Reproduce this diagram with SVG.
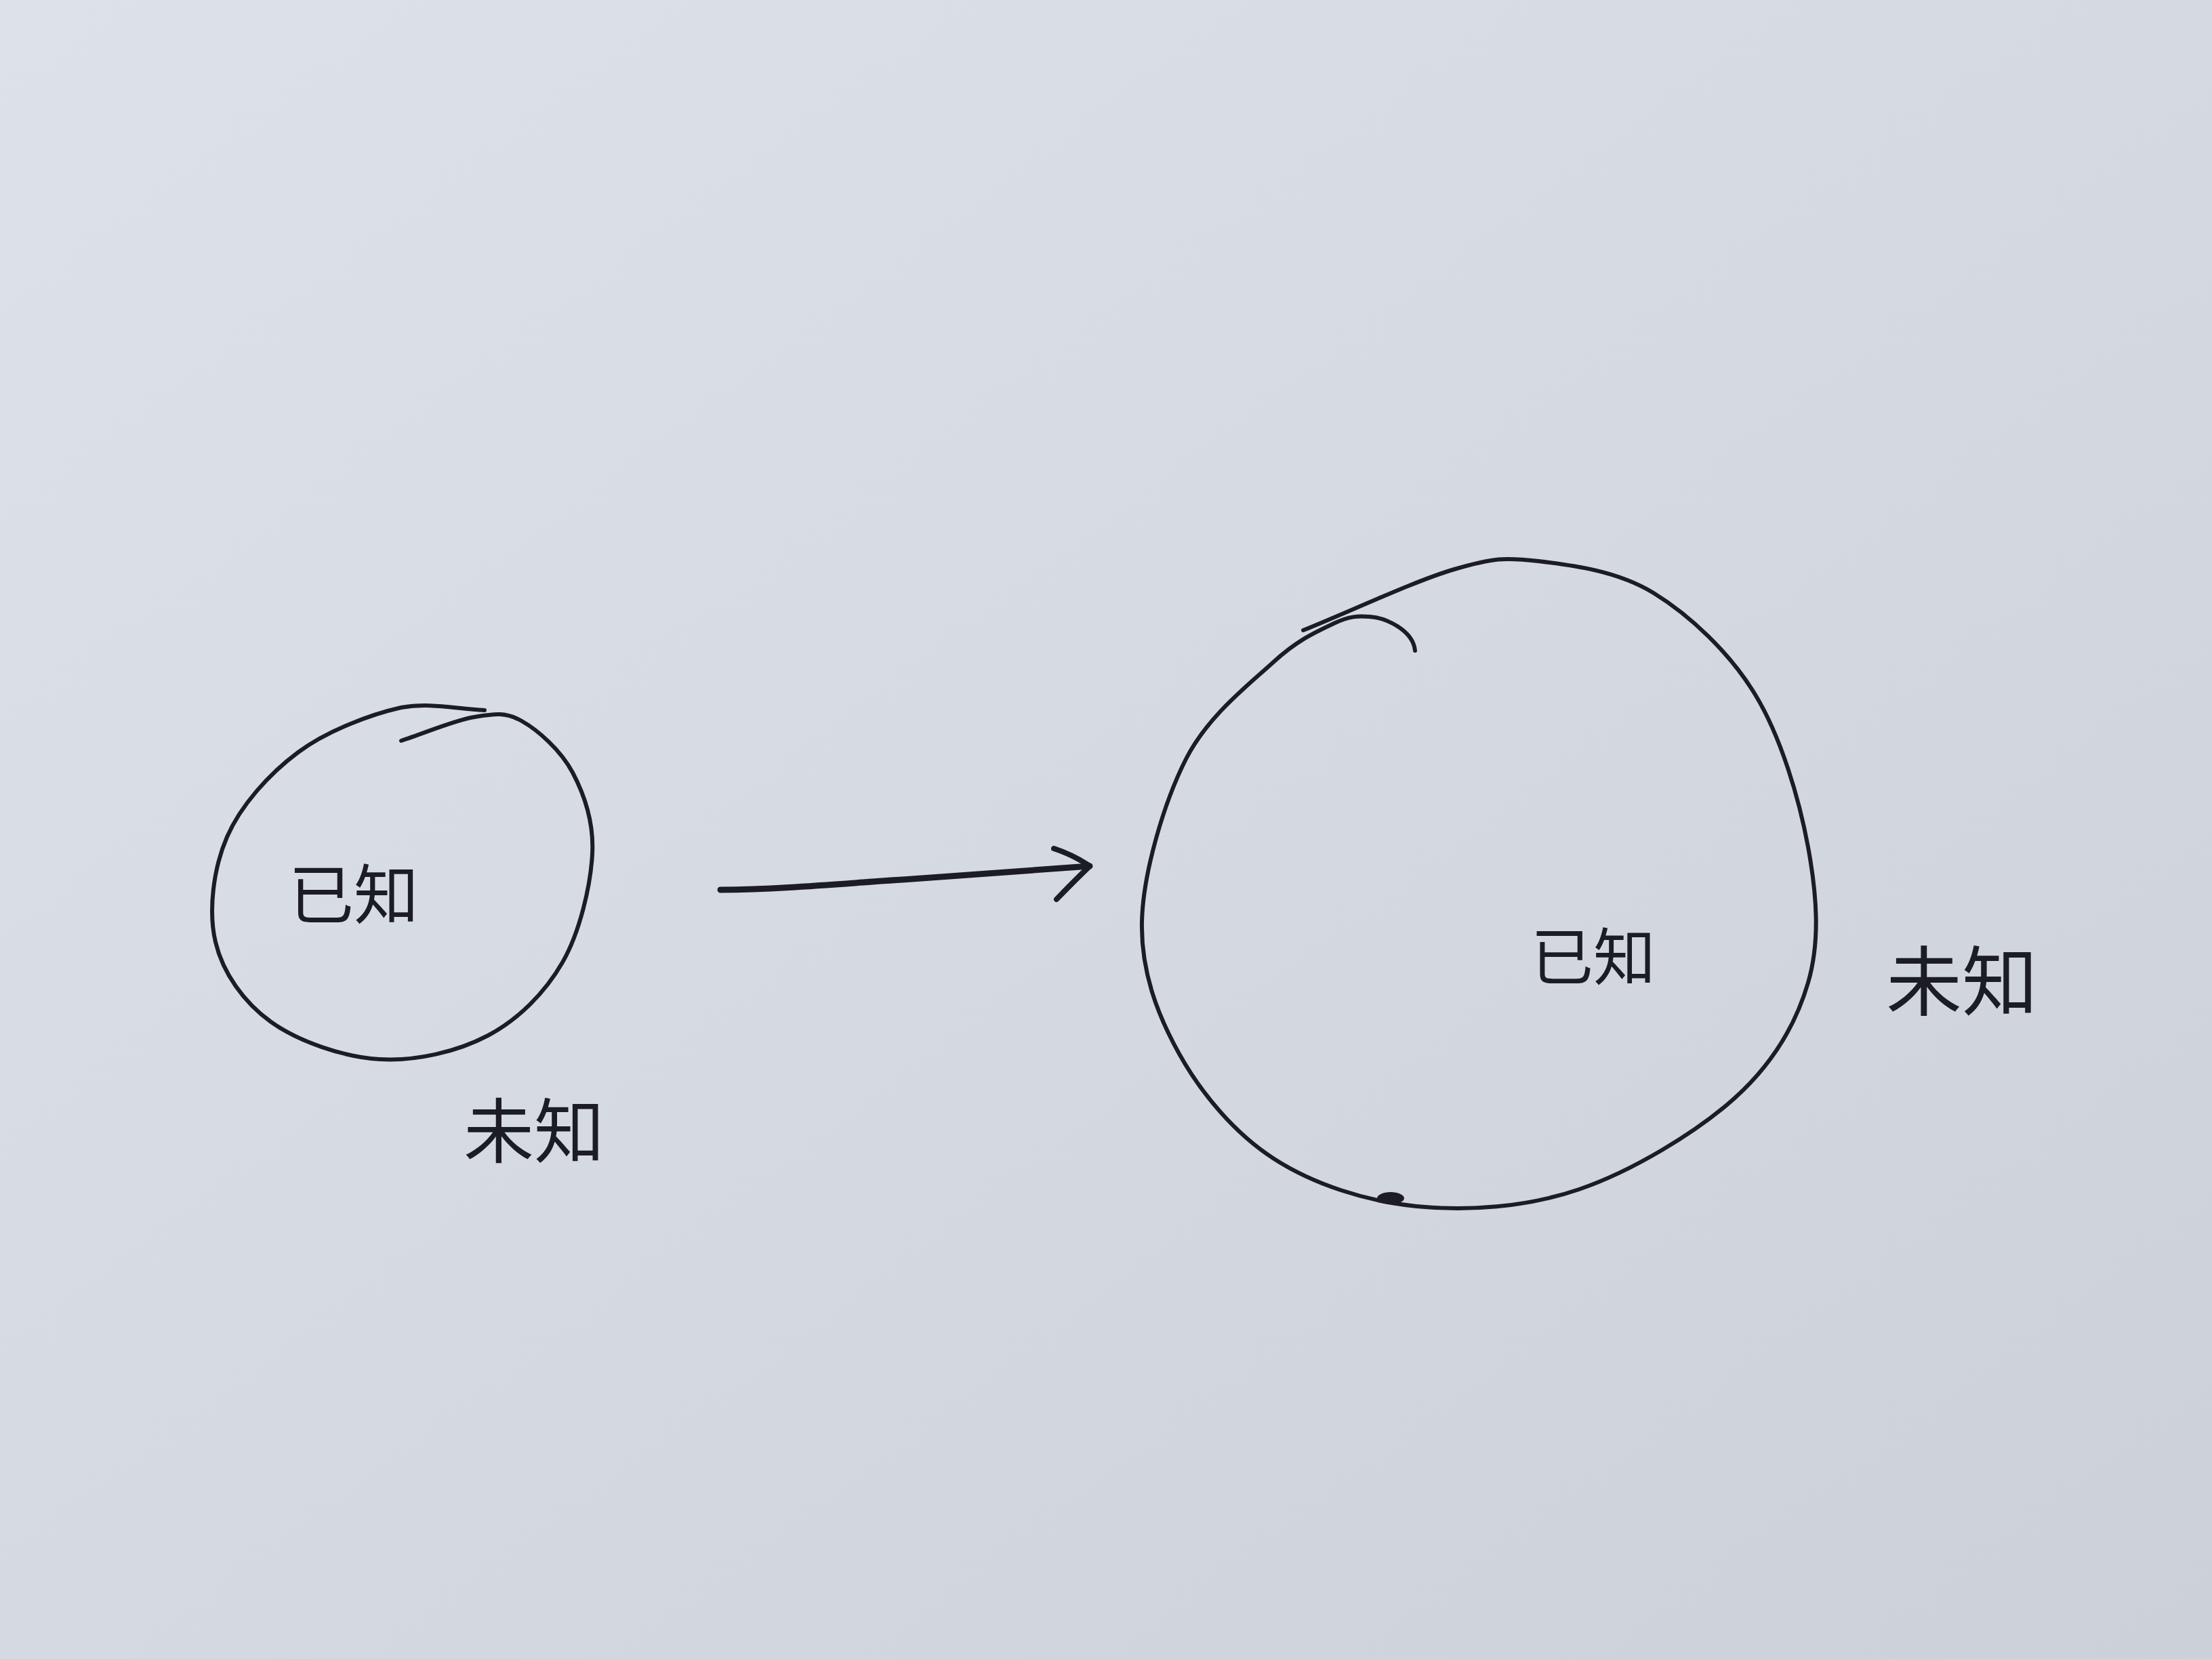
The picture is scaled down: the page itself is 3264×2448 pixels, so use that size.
<svg xmlns="http://www.w3.org/2000/svg" width="3264" height="2448" viewBox="0 0 3264 2448">
<defs>
<linearGradient id="paper" x1="0" y1="0" x2="1" y2="1">
<stop offset="0" stop-color="#dde2e9"/>
<stop offset="0.5" stop-color="#d5dae2"/>
<stop offset="1" stop-color="#ccd1d9"/>
</linearGradient>
<style>
.ink{fill:none;stroke:#1b1c24;stroke-linecap:round;stroke-linejoin:round}
.circle{stroke-width:6}
.lbl{font-family:"Noto Sans CJK SC","Noto Sans CJK TC",sans-serif;fill:#1b1c24;text-anchor:middle;font-weight:400}
</style>
</defs>
<rect width="3264" height="2448" fill="url(#paper)"/>
<g id="known-small">
<path class="ink circle" d="M715,1048 C674,1046.7 637.8,1036 592,1044 C546.2,1054.3 482.8,1078.2 440,1110 C397.2,1141.8 355.3,1188.3 335,1235 C314.7,1281.7 307.2,1344.5 318,1390 C328.8,1435.5 359.7,1479.2 400,1508 C440.3,1536.8 506.7,1559.7 560,1563 C613.3,1566.3 675,1551.8 720,1528 C765,1504.2 804.3,1464.7 830,1420 C855.7,1375.3 871.5,1306.7 874,1260 C876.5,1213.3 862.3,1172.7 845,1140 C827.7,1107.3 794.2,1077.7 770,1064 C745.8,1050.3 729.7,1053.2 700,1058 C670.3,1062.8 628,1081.3 592,1093"/>
<text class="lbl" x="522" y="1355" font-size="96">已知</text>
</g>
<g id="unknown-small">
<text class="lbl" x="788" y="1708" font-size="104">未知</text>
</g>
<g id="connectors">
<path class="ink" stroke-width="9" d="M1063,1313 C1160,1312 1250,1303 1346,1297 C1440,1291 1530,1283 1608,1278"/>
<path class="ink" stroke-width="8" d="M1555,1252 Q1585,1262 1608,1278 Q1585,1300 1559,1327"/>
</g>
<g id="known-large">
<path class="ink circle" d="M1923,930 C1997.3,900 2088.2,857 2146,840 C2203.8,823 2221,822.2 2270,828 C2319,833.8 2386.7,842.2 2440,875 C2493.3,907.8 2552,962.5 2590,1025 C2628,1087.5 2655,1179.2 2668,1250 C2681,1320.8 2686,1388.3 2668,1450 C2650,1511.7 2616.3,1569.2 2560,1620 C2503.7,1670.8 2408.3,1728.3 2330,1755 C2251.7,1781.7 2165,1787.5 2090,1780 C2015,1772.5 1938.3,1747.5 1880,1710 C1821.7,1672.5 1772.5,1613.3 1740,1555 C1707.5,1496.7 1683.3,1432.5 1685,1360 C1686.7,1287.5 1717.7,1183.8 1750,1120 C1782.3,1056.2 1842.7,1010.3 1879,977 C1915.3,943.7 1944.3,931.2 1968,920 C1991.7,908.8 2003.8,908.8 2021,910 C2045,911.5 2085,930 2088,960"/>
<ellipse cx="2052" cy="1768" rx="20" ry="9" fill="#1b1c24"/>
<text class="lbl" x="2351" y="1446" font-size="92">已知</text>
</g>
<g id="unknown-large">
<text class="lbl" x="2895" y="1490" font-size="112">未知</text>
</g>
</svg>
